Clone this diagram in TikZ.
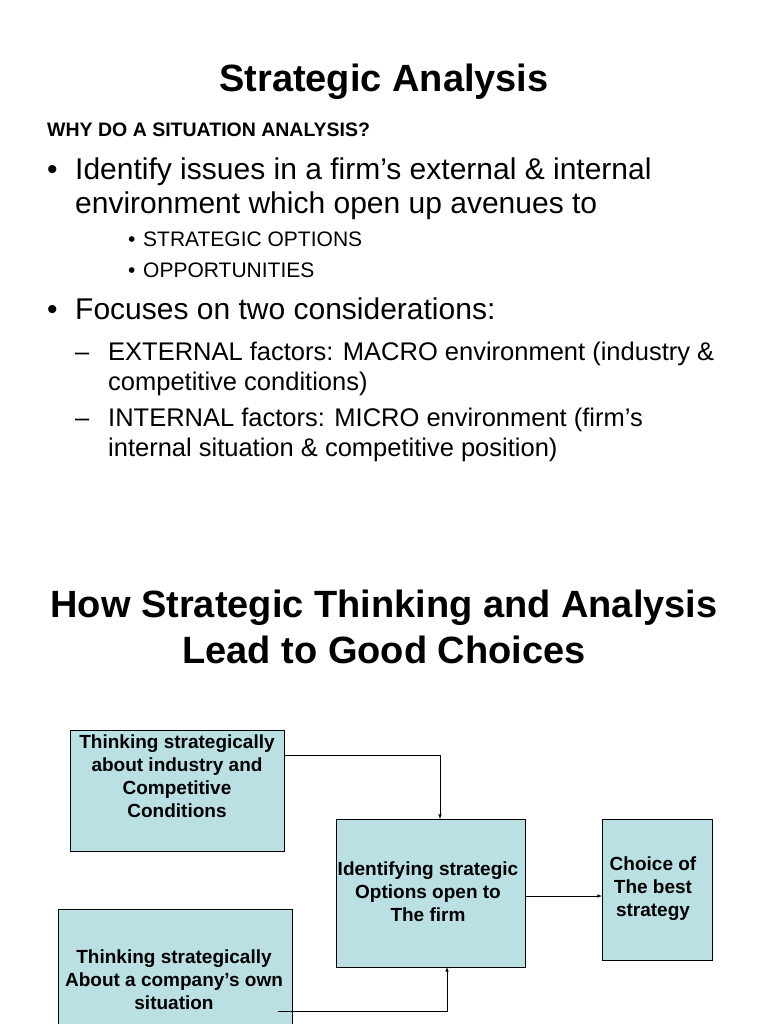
\documentclass[tikz,border=0pt]{standalone}
\usepackage{fontspec}
\setmainfont{Liberation Sans}
\definecolor{boxfill}{RGB}{187,224,227}
\begin{document}
\begin{tikzpicture}[x=1pt,y=-1pt,
  box/.style={draw=black,fill=boxfill,line width=0.8pt},
  btxt/.style={align=center,font=\fontsize{19}{23}\selectfont\bfseries,inner sep=0pt},
  txt/.style={anchor=base west,inner sep=0pt},
  arr/.style={-latex,line width=0.6pt}]
\useasboundingbox (0,0) rectangle (768,1024);
\node[inner sep=0pt,font=\fontsize{38}{40}\selectfont\bfseries] (t1) at (384,82) {Strategic Analysis};
\node[txt,font=\fontsize{19.5}{20}\selectfont\bfseries] (h) at (47,137) {WHY DO A SITUATION ANALYSIS?};
\node[txt,font=\fontsize{30}{32}\selectfont] (b1) at (47,180) {•};
\node[txt,font=\fontsize{30}{32}\selectfont] (l1) at (75,180) {Identify issues in a firm’s external \& internal};
\node[txt,font=\fontsize{30}{32}\selectfont] (l2) at (75,214) {environment which open up avenues to};
\node[txt,font=\fontsize{21}{22}\selectfont] (s1b) at (128,247) {•};
\node[txt,font=\fontsize{21}{22}\selectfont] (s1) at (143,247) {STRATEGIC OPTIONS};
\node[txt,font=\fontsize{21}{22}\selectfont] (s2b) at (128,277) {•};
\node[txt,font=\fontsize{21}{22}\selectfont] (s2) at (143,277) {OPPORTUNITIES};
\node[txt,font=\fontsize{30}{32}\selectfont] (b2) at (47,319) {•};
\node[txt,font=\fontsize{30}{32}\selectfont] (l3) at (75,319) {Focuses on two considerations:};
\node[txt,font=\fontsize{25.5}{27}\selectfont] (d1) at (75,360) {–};
\node[txt,font=\fontsize{25.5}{27}\selectfont] (e1) at (108,360) {EXTERNAL factors: MACRO environment (industry \&};
\node[txt,font=\fontsize{25.5}{27}\selectfont] (e2) at (108,390) {competitive conditions)};
\node[txt,font=\fontsize{25.5}{27}\selectfont] (d2) at (75,426) {–};
\node[txt,font=\fontsize{25.5}{27}\selectfont] (i1) at (108,426) {INTERNAL factors: MICRO environment (firm’s};
\node[txt,font=\fontsize{25.5}{27}\selectfont] (i2) at (108,456) {internal situation \& competitive position)};
\node[inner sep=0pt,font=\fontsize{38}{46}\selectfont\bfseries,align=center] (t2) at (384,627) {How Strategic Thinking and Analysis\\Lead to Good Choices};
% boxes
\draw[box] (70,730) rectangle (284,851);
\node[btxt,anchor=north] (n1) at (177,735) {Thinking strategically\\about industry and\\Competitive\\Conditions};
\draw[box] (336,819) rectangle (525,967);
\node[btxt] (n2) at (428,892) {Identifying strategic\\Options open to\\The firm};
\draw[box] (602,819) rectangle (712,960);
\node[btxt] (n3) at (653,889) {Choice of\\The best\\strategy};
\draw[box] (58,909) rectangle (292,1030);
\node[btxt] (n4) at (174,980) {Thinking strategically\\About a company’s own\\situation};
\coordinate (a1) at (284,755);
\coordinate (a1c) at (440,755);
\coordinate (a2t) at (440,819);
\coordinate (a4) at (278,1011);
\coordinate (a4c) at (447,1011);
\coordinate (a2b) at (447,967);
\coordinate (m1) at (525,896);
\coordinate (m2) at (602,896);
\draw[arr] (a1) -- (a1c) -- (a2t);
\draw[arr] (a4) -- (a4c) -- (a2b);
\draw[arr] (m1) -- (m2);
\end{tikzpicture}
\end{document}
